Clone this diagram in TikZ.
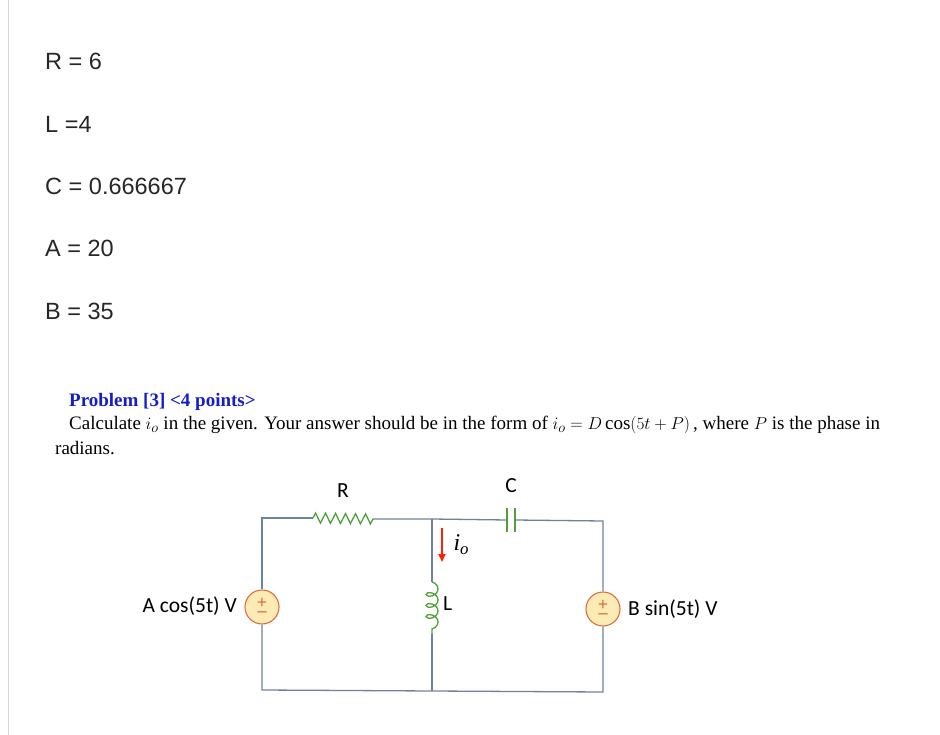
\documentclass[tikz,border=0pt]{standalone}
\usepackage{fontspec}
\setmainfont{Liberation Serif}
\newfontfamily\uifont{Liberation Sans}
\newfontfamily\cirfont{Carlito}
\usetikzlibrary{decorations.pathmorphing,arrows.meta}
\definecolor{wire}{RGB}{110,130,160}
\definecolor{grn}{RGB}{80,160,60}
\definecolor{srcfill}{RGB}{252,235,180}
\definecolor{srcedge}{RGB}{220,110,60}
\definecolor{probblue}{RGB}{20,30,200}
\begin{document}
\begin{tikzpicture}[x=1pt,y=-1pt,
  val/.style={anchor=west,font=\uifont\fontsize{23.5}{28}\selectfont,text=black!85,inner sep=0},
  ptext/.style={anchor=west,font=\fontsize{19}{23}\selectfont,inner sep=0},
  clab/.style={font=\cirfont\fontsize{21.5}{25}\selectfont,inner sep=1pt},
  wireline/.style={draw=wire,line width=1.3pt},
  src/.style={circle,draw=srcedge,fill=srcfill,line width=1.1pt,minimum size=34pt,inner sep=0,
    text=srcedge,font=\bfseries\fontsize{18}{14}\selectfont,align=center}]
\useasboundingbox (0,0) rectangle (940,735);
\draw[black!15,line width=1pt] (8,0) -- (8,735);
\node[val] (v1) at (45,61) {R = 6};
\node[val] (v2) at (45,124) {L =4};
\node[val] (v3) at (45,186) {C = 0.666667};
\node[val] (v4) at (45,248) {A = 20};
\node[val] (v5) at (45,311) {B = 35};
\node[ptext,text=probblue,font=\bfseries\fontsize{19}{23}\selectfont] (p1) at (69,402) {Problem [3] <4 points>};
\node[ptext] (p2) at (69,425) {Calculate $i_o$ in the given. Your answer should be in the form of $i_o=D\cos(5t+P)$\,, where $P$ is the phase in};
\node[ptext] (p3) at (55,448) {radians.};
% circuit
\coordinate (tl) at (262,518);
\coordinate (tm) at (432,519);
\coordinate (tr) at (603,521);
\coordinate (bl) at (262,690);
\coordinate (bm) at (432,691);
\coordinate (br) at (603,692);
\node[src] (s1) at (262,607) {+\\[-6pt]--};
\node[src] (s2) at (603,609) {+\\[-6pt]--};
\coordinate (ra) at (313,518);
\coordinate (rb) at (375,519);
\coordinate (ca) at (507,520);
\coordinate (cb) at (515,520);
\coordinate (la) at (432,582);
\coordinate (lb) at (432,634);
\draw[wireline] (s1.north) -- (tl) -- (ra);
\draw[grn,line width=1.3pt,decorate,decoration={zigzag,segment length=10pt,amplitude=5pt}] (ra) -- (rb);
\draw[wireline] (rb) -- (tm) -- (ca);
\draw[grn,line width=1.4pt] (507,508) -- (507,532) (515,508) -- (515,532);
\draw[wireline] (cb) -- (tr) -- (s2.north);
\draw[wireline] (s2.south) -- (br) -- (bm) -- (bl) -- (s1.south);
\draw[wireline] (tm) -- (la);
\draw[grn,line width=1.3pt,decorate,decoration={coil,aspect=0.7,segment length=11pt,amplitude=6pt}] (la) -- (lb);
\draw[wireline] (lb) -- (bm);
\coordinate (aa) at (442,528);
\coordinate (ab) at (442,562);
\draw[draw=red!75!orange,line width=1.8pt,-{Triangle[length=8pt,width=7pt]}] (aa) -- (ab);
\node[font=\fontsize{24}{26}\selectfont,anchor=west] (io) at (450,545) {$\mathit{i_o}$};
\node[clab] (lR) at (343,491) {R};
\node[clab] (lC) at (511,486) {C};
\node[clab,anchor=west] (lL) at (442,604) {L};
\node[clab,anchor=east] (lA) at (238,606) {A cos(5t) V};
\node[clab,anchor=west] (lB) at (627,609) {B sin(5t) V};
\end{tikzpicture}
\end{document}
